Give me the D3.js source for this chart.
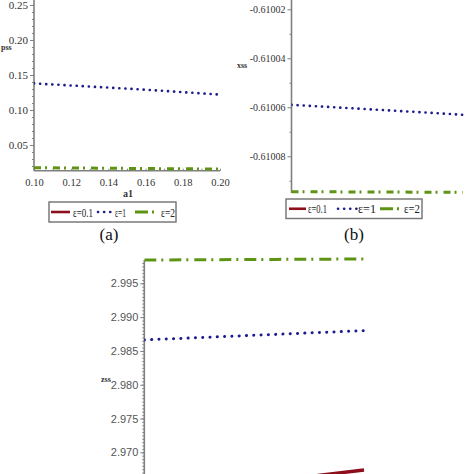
<!DOCTYPE html>
<html>
<head>
<meta charset="utf-8">
<script src="https://cdn.jsdelivr.net/npm/d3@7"></script>
<style>
  body { margin: 0; background: #fff; }
  svg { display: block; overflow: hidden; }
</style>
</head>
<body>
<svg id="chart" width="474" height="474"></svg>
<script>
// shared x values (a1)
var a1Values = [0.10, 0.12, 0.14, 0.16, 0.18, 0.20];

// panel (a) pss
var pssEps01 = [0.0090, 0.0088, 0.0086, 0.0084, 0.0082, 0.0080];
var pssEps1 = [0.1380, 0.1350, 0.1320, 0.1290, 0.1255, 0.1220];
var pssEps2 = [0.0176, 0.0172, 0.0168, 0.0164, 0.0160, 0.0157];
var pssTicks = [0.05, 0.10, 0.15, 0.20, 0.25];
var a1Ticks = [0.10, 0.12, 0.14, 0.16, 0.18, 0.20];

// panel (b) xss
var xssEps01 = [-0.6100975, -0.6100975, -0.6100976, -0.6100976, -0.6100977, -0.6100977];
var xssEps1 = [-0.6100590, -0.6100598, -0.6100606, -0.6100614, -0.6100622, -0.6100631];
var xssEps2 = [-0.6100945, -0.6100945, -0.6100946, -0.6100946, -0.6100947, -0.6100947];
var xssTicks = [-0.61002, -0.61004, -0.61006, -0.61008];

// panel (c) zss
var zssEps01 = [2.9628, 2.9639, 2.9649, 2.9658, 2.9666, 2.96738];
var zssEps1 = [2.98663, 2.98690, 2.98718, 2.98745, 2.98773, 2.98800];
var zssEps2 = [2.99845, 2.99848, 2.99851, 2.99854, 2.99857, 2.99860];
var zssTicks = [2.970, 2.975, 2.980, 2.985, 2.990, 2.995];

var legendLabels = ["ε=0.1", "ε=1", "ε=2"];

var colorRed = "#8e0f1c";
var colorBlue = "#1c1c8f";
var colorGreen = "#5e9414";
var axisColor = "#808080";
var serif = "'Liberation Serif', 'DejaVu Serif', serif";

var svg = d3.select("#chart");

function styleFor(i, big) {
    if (i === 0) return { color: colorRed, width: big ? 3.4 : 2.6, dash: null, cap: "butt" };
    if (i === 1) return { color: colorBlue, width: big ? 3 : 2.6, dash: big ? "0.1,7.2" : "0.1,6", cap: "round" };
    return { color: colorGreen, width: 3, dash: big ? "12,5,2,6" : "7,4,2,6", cap: "butt" };
}

var clipCount = 0;

function drawPanel(p) {
    var g = svg.append("g");
    var x = d3.scaleLinear().domain([0.10, 0.20]).range(p.xRange);
    var y = d3.scaleLinear().domain(p.yDomain).range(p.yRange);

    // lines are cut at the plot frame
    var clipId = "clip" + (clipCount++);
    svg.append("clipPath").attr("id", clipId)
        .append("rect")
        .attr("x", p.xRange[0]).attr("y", p.yRange[1] - 5)
        .attr("width", p.xRange[1] - p.xRange[0] + 5)
        .attr("height", p.yRange[0] - p.yRange[1] + 5 + p.clipPad);

    // minor ticks on y
    var yAxisMinor = d3.axisLeft(y).tickValues(p.yMinor).tickSize(2).tickFormat("");
    var gm = g.append("g").attr("transform", "translate(" + p.xRange[0] + ",0)").call(yAxisMinor);
    gm.select(".domain").remove();
    gm.selectAll("line").attr("stroke", axisColor);

    var fmt = d3.format(p.yFormat);
    var yAxis = d3.axisLeft(y).tickValues(p.yTicks).tickSize(4).tickPadding(2)
        .tickFormat(function (d) { return fmt(d).replace("−", "-"); });
    var ga = g.append("g").attr("transform", "translate(" + p.xRange[0] + ",0)").call(yAxis);
    ga.attr("font-family", p.tickFont).attr("font-size", p.tickSize);
    ga.select(".domain").remove();
    ga.selectAll("line").attr("stroke", axisColor);
    ga.selectAll("text")
        .attr("fill", p.tickColor)
        .style("font-family", p.tickFont)
        .style("font-size", p.tickSize + "px");

    g.append("line")
        .attr("x1", p.xRange[0]).attr("x2", p.xRange[0])
        .attr("y1", p.yRange[0]).attr("y2", p.yRange[1])
        .attr("stroke", axisColor).attr("stroke-width", 1.6);

    if (p.xTicks) {
        var xMinor = d3.axisBottom(x).tickValues(d3.range(0.10, 0.2001, 0.01)).tickSize(2).tickFormat("");
        var gxm = g.append("g").attr("transform", "translate(0," + (p.yRange[0] - 2) + ")").call(xMinor);
        gxm.select(".domain").remove();
        gxm.selectAll("line").attr("stroke", axisColor);

        var xAxis = d3.axisBottom(x).tickValues(p.xTicks).tickSize(0).tickPadding(8).tickFormat(d3.format(".2f"));
        var gx = g.append("g").attr("transform", "translate(0," + p.yRange[0] + ")").call(xAxis);
        gx.attr("font-family", p.tickFont);
        gx.select(".domain").remove();
        gx.selectAll("text")
            .attr("fill", p.tickColor)
            .style("font-family", p.tickFont)
            .style("font-size", "10.5px");

        g.append("line")
            .attr("x1", p.xRange[0]).attr("x2", p.xRange[1])
            .attr("y1", p.yRange[0]).attr("y2", p.yRange[0])
            .attr("stroke", axisColor).attr("stroke-width", 1.6);

        g.append("text")
            .attr("x", (p.xRange[0] + p.xRange[1]) / 2 + 1)
            .attr("y", p.yRange[0] + 26)
            .attr("text-anchor", "middle")
            .style("font-family", serif)
            .style("font-weight", "bold")
            .style("font-size", "10px")
            .attr("fill", "#333")
            .text("a1");
    }

    var line = d3.line()
        .x(function (d) { return x(d.x); })
        .y(function (d) { return y(d.y); });

    var lines = g.append("g").attr("clip-path", "url(#" + clipId + ")");
    p.series.forEach(function (s, i) {
        var st = styleFor(i, p.big);
        var pts = a1Values.map(function (v, j) { return { x: v, y: s[j] }; });
        lines.append("path")
            .datum(pts)
            .attr("d", line)
            .attr("fill", "none")
            .attr("stroke", st.color)
            .attr("stroke-width", st.width)
            .attr("stroke-linecap", st.cap)
            .attr("stroke-dasharray", st.dash);
    });

    g.append("text")
        .attr("x", p.yLabel[0]).attr("y", p.yLabel[1])
        .style("font-family", serif)
        .style("font-weight", "bold")
        .style("font-size", "8px")
        .attr("fill", "#333")
        .text(p.yName);
}

function drawLegend(lg) {
    var g = svg.append("g");
    g.append("rect")
        .attr("x", lg.x).attr("y", lg.y)
        .attr("width", lg.w).attr("height", lg.h)
        .attr("fill", "#fff")
        .attr("stroke", "#7a7a7a").attr("stroke-width", 1.5);
    var cy = lg.y + lg.h / 2;
    legendLabels.forEach(function (label, i) {
        var st = styleFor(i, false);
        var it = lg.items[i];
        g.append("line")
            .attr("x1", it[0]).attr("x2", it[1])
            .attr("y1", cy).attr("y2", cy)
            .attr("stroke", st.color)
            .attr("stroke-width", st.width)
            .attr("stroke-linecap", st.cap)
            .attr("stroke-dasharray", i === 2 ? "13,4,2,30" : st.dash);
        g.append("text")
            .attr("x", it[2]).attr("y", cy + 4.5)
            .attr("textLength", it[3])
            .attr("lengthAdjust", "spacingAndGlyphs")
            .style("font-family", serif)
            .style("font-size", "13px")
            .attr("fill", "#222")
            .text(label);
    });
}

function panelTag(txt, x, y) {
    svg.append("text")
        .attr("x", x).attr("y", y)
        .attr("text-anchor", "middle")
        .style("font-family", serif)
        .style("font-size", "17px")
        .attr("fill", "#111")
        .text(txt);
}

// (a)
drawPanel({
    xRange: [34, 220],
    yDomain: [0.0133, 0.2571],
    yRange: [170.7, 0],
    clipPad: 0,
    yTicks: pssTicks,
    yMinor: d3.range(0.02, 0.2571, 0.01),
    yFormat: ".2f",
    xTicks: a1Ticks,
    tickColor: "#333",
    tickFont: serif,
    tickSize: 11,
    series: [pssEps01, pssEps1, pssEps2],
    yName: "pss",
    yLabel: [1, 50],
    big: false
});

// (b)
drawPanel({
    xRange: [291.5, 463],
    yDomain: [-0.6100950, -0.6100162],
    yRange: [193, 0],
    clipPad: 1.6,
    yTicks: xssTicks,
    yMinor: [-0.61001, -0.61003, -0.61005, -0.61007, -0.61009],
    yFormat: ".5f",
    xTicks: null,
    tickColor: "#333",
    tickFont: serif,
    tickSize: 10,
    series: [xssEps01, xssEps1, xssEps2],
    yName: "xss",
    yLabel: [237, 68],
    big: false
});

// (c)
drawPanel({
    xRange: [144.3, 364],
    yDomain: [2.96, 2.99845],
    yRange: [519.9, 260],
    clipPad: 2,
    yTicks: zssTicks,
    yMinor: d3.range(2.9605, 2.9984, 0.0005),
    yFormat: ".3f",
    xTicks: null,
    tickColor: "#555",
    tickFont: "'Liberation Sans', Arial, sans-serif",
    tickSize: 11,
    series: [zssEps01, zssEps1, zssEps2],
    yName: "zss",
    yLabel: [101, 382],
    big: true
});

drawLegend({ x: 49, y: 202, w: 127, h: 20, items: [[51, 70, 73, 20], [98, 114, 115, 11], [135, 156, 161, 14]] });
drawLegend({ x: 286, y: 199, w: 136, h: 19.5, items: [[289, 306, 308, 19], [338, 357, 358, 18], [380, 400, 404, 16]] });

panelTag("(a)", 109, 240);
panelTag("(b)", 354, 240);
</script>
</body>
</html>
